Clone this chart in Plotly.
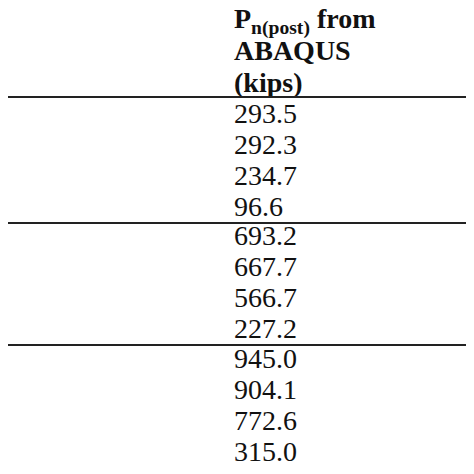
import plotly.graph_objects as go

# header lines per column
header_1 = ["P<sub>cr(buckle)</sub> from", "ABAQUS", "(kips)"]
header_2 = ["P<sub>n(post)</sub> from", "ABAQUS", "(kips)"]
header_3 = ["P<sub>n</sub> from", "using", "(kips)"]

p_buckle = ["324", "313", "267", "123", "795", "764", "682", "326", "1085", "1044", "932", "452"]
p_post = ["293.5", "292.3", "234.7", "96.6", "693.2", "667.7", "566.7", "227.2", "945.0", "904.1", "772.6", "315.0"]
p_third = ["268.1", "262.5", "215.0", "140.9", "655.0", "640.3", "545.2", "240.7", "862.4", "845.1", "805.0", "330.6"]

col_x = [-2, 226, 458]
header_y = [13, 45, 77]
row_y = [108, 139, 170, 201, 230, 261, 292, 323, 353, 384, 415, 446]
rule_y = [89, 215, 337]

font = dict(family="'Liberation Serif', 'DejaVu Serif', serif", size=28, color="#111")
fig = go.Figure()
for x, hdr in zip(col_x, [header_1, header_2, header_3]):
    fig.add_trace(go.Scatter(
        x=[x] * len(hdr), y=header_y, text=[f"<b>{t}</b>" for t in hdr],
        mode="text", textposition="middle right", textfont=font, cliponaxis=False,
    ))
for x, vals in zip(col_x, [p_buckle, p_post, p_third]):
    fig.add_trace(go.Scatter(
        x=[x] * len(vals), y=row_y, text=vals,
        mode="text", textposition="middle right", textfont=font, cliponaxis=False,
    ))

for y in rule_y:
    fig.add_shape(type="line", x0=0, x1=474, y0=y, y1=y, line=dict(color="#222", width=2))

fig.update_xaxes(range=[0, 474], visible=False)
fig.update_yaxes(range=[474, 0], visible=False)
fig.update_layout(
    width=474, height=474, showlegend=False,
    margin=dict(l=0, r=0, t=0, b=0),
    paper_bgcolor="white", plot_bgcolor="white",
)
fig.write_html("out.html")
